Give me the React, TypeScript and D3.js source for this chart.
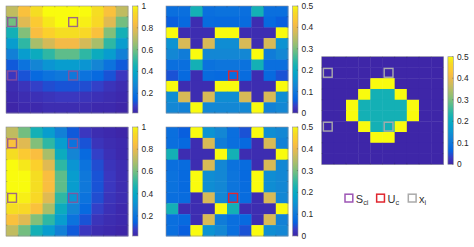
import React from "react";
import * as d3 from "d3";

// parula colormap stops (MATLAB default)
const parulaStops = [
  "#3e26a8", "#3a3bc4", "#0363e1", "#0d75dc", "#1485d4", "#0998d1", "#06a7c6", "#15b1b4",
  "#38b99e", "#65be86", "#92bf73", "#b7bd64", "#d9ba56", "#f8ba44", "#fcce2e", "#f5de21", "#f9fb0e",
];
const parulaPos = [0, 4, 8, 12, 16, 20, 24, 28, 32, 36, 40, 44, 48, 52, 56, 60, 63].map((i) => i / 63);
const parula = d3
  .scaleLinear<string>()
  .domain(parulaPos)
  .range(parulaStops)
  .interpolate(d3.interpolateRgb)
  .clamp(true);

// similarity to the top row probe
const simTop = [
  [0.72, 0.85, 0.95, 1.0, 1.0, 1.0, 1.0, 0.95, 0.85, 0.72],
  [0.6, 0.78, 0.88, 0.97, 1.0, 1.0, 0.98, 0.93, 0.78, 0.6],
  [0.45, 0.62, 0.84, 0.9, 0.95, 0.95, 0.93, 0.85, 0.62, 0.45],
  [0.35, 0.5, 0.68, 0.76, 0.82, 0.82, 0.76, 0.68, 0.5, 0.35],
  [0.25, 0.35, 0.42, 0.5, 0.57, 0.57, 0.5, 0.42, 0.35, 0.25],
  [0.13, 0.2, 0.27, 0.32, 0.35, 0.35, 0.32, 0.27, 0.2, 0.13],
  [0.07, 0.12, 0.17, 0.2, 0.22, 0.22, 0.2, 0.17, 0.12, 0.07],
  [0.04, 0.06, 0.09, 0.11, 0.12, 0.12, 0.11, 0.09, 0.06, 0.04],
  [0.03, 0.04, 0.05, 0.06, 0.07, 0.07, 0.06, 0.05, 0.04, 0.03],
  [0.02, 0.03, 0.03, 0.04, 0.04, 0.04, 0.04, 0.03, 0.03, 0.02],
];

// similarity to the left column probe
const simLeft = [
  [0.72, 0.6, 0.45, 0.35, 0.25, 0.13, 0.07, 0.04, 0.03, 0.02],
  [0.85, 0.78, 0.62, 0.5, 0.35, 0.2, 0.12, 0.06, 0.04, 0.03],
  [0.95, 0.88, 0.84, 0.68, 0.42, 0.27, 0.17, 0.09, 0.05, 0.03],
  [1.0, 0.97, 0.9, 0.78, 0.5, 0.32, 0.2, 0.11, 0.06, 0.04],
  [1.0, 1.0, 0.95, 0.84, 0.57, 0.35, 0.22, 0.12, 0.07, 0.04],
  [1.0, 1.0, 0.95, 0.84, 0.57, 0.35, 0.22, 0.12, 0.07, 0.04],
  [1.0, 0.98, 0.93, 0.78, 0.5, 0.32, 0.2, 0.11, 0.06, 0.04],
  [0.95, 0.93, 0.85, 0.68, 0.42, 0.27, 0.17, 0.09, 0.05, 0.03],
  [0.85, 0.78, 0.62, 0.5, 0.35, 0.2, 0.12, 0.06, 0.04, 0.03],
  [0.72, 0.6, 0.45, 0.35, 0.25, 0.13, 0.07, 0.04, 0.03, 0.02],
];

// variance maps
const varRows = [
  [0.085, 0.085, 0.22, 0.085, 0.09, 0.09, 0.085, 0.22, 0.085, 0.085],
  [0.06, 0.075, 0.01, 0.08, 0.075, 0.075, 0.08, 0.01, 0.075, 0.06],
  [0.5, 0.01, 0.01, 0.01, 0.5, 0.5, 0.01, 0.01, 0.01, 0.5],
  [0.15, 0.38, 0.01, 0.38, 0.14, 0.14, 0.38, 0.01, 0.38, 0.15],
  [0.13, 0.11, 0.5, 0.13, 0.13, 0.13, 0.13, 0.5, 0.11, 0.13],
  [0.085, 0.085, 0.22, 0.09, 0.095, 0.095, 0.09, 0.22, 0.085, 0.085],
  [0.05, 0.075, 0.01, 0.08, 0.075, 0.08, 0.08, 0.01, 0.075, 0.05],
  [0.5, 0.01, 0.01, 0.01, 0.5, 0.5, 0.01, 0.01, 0.01, 0.5],
  [0.14, 0.38, 0.01, 0.38, 0.14, 0.14, 0.38, 0.01, 0.38, 0.14],
  [0.13, 0.12, 0.5, 0.13, 0.13, 0.13, 0.13, 0.5, 0.12, 0.13],
];

const varCols = [
  [0.085, 0.06, 0.5, 0.15, 0.13, 0.085, 0.05, 0.5, 0.14, 0.13],
  [0.085, 0.075, 0.01, 0.38, 0.11, 0.085, 0.075, 0.01, 0.38, 0.12],
  [0.22, 0.01, 0.01, 0.01, 0.5, 0.22, 0.01, 0.01, 0.01, 0.5],
  [0.085, 0.08, 0.01, 0.38, 0.13, 0.09, 0.08, 0.01, 0.38, 0.13],
  [0.09, 0.075, 0.5, 0.14, 0.13, 0.095, 0.075, 0.5, 0.14, 0.13],
  [0.09, 0.075, 0.5, 0.14, 0.13, 0.095, 0.08, 0.5, 0.14, 0.13],
  [0.085, 0.08, 0.01, 0.38, 0.13, 0.09, 0.08, 0.01, 0.38, 0.13],
  [0.22, 0.01, 0.01, 0.01, 0.5, 0.22, 0.01, 0.01, 0.01, 0.5],
  [0.085, 0.075, 0.01, 0.38, 0.11, 0.085, 0.075, 0.01, 0.38, 0.12],
  [0.085, 0.06, 0.5, 0.15, 0.13, 0.085, 0.05, 0.5, 0.14, 0.13],
];

// target pattern
const target = [
  [0, 0, 0, 0, 0, 0, 0, 0, 0, 0],
  [0, 0, 0, 0, 0, 0, 0, 0, 0, 0],
  [0, 0, 0, 0, 0.5, 0.5, 0, 0, 0, 0],
  [0, 0, 0, 0.5, 0.22, 0.22, 0.5, 0, 0, 0],
  [0, 0, 0.5, 0.22, 0.22, 0.22, 0.22, 0.5, 0, 0],
  [0, 0, 0.5, 0.22, 0.22, 0.22, 0.22, 0.5, 0, 0],
  [0, 0, 0, 0.5, 0.22, 0.22, 0.5, 0, 0, 0],
  [0, 0, 0, 0, 0.5, 0.5, 0, 0, 0, 0],
  [0, 0, 0, 0, 0, 0, 0, 0, 0, 0],
  [0, 0, 0, 0, 0, 0, 0, 0, 0, 0],
];

const ticksUnit = [0.2, 0.4, 0.6, 0.8, 1];
const ticksHalf = [0, 0.1, 0.2, 0.3, 0.4, 0.5];

// highlighted cells as [row, col]
const sciCells = [[1, 0], [1, 5], [6, 0], [6, 5]];
const ucCells = [[6, 5]];
const xiCells = [[1, 0], [1, 5], [6, 0], [6, 5]];

const legendKeys = ["S", "U", "x"];
const legendSubs = ["ci", "c", "i"];
const SCI = "#8e4f98";
const UC = "#e0262f";
const XI = "#aaaaaa";
const legendColors = ["#9d55b5", UC, XI];

const AXIS = "#262626";

type Mark = { cells: number[][]; color: string; opacity?: number };

function Heatmap(props: {
  id: string;
  values: number[][];
  left: number;
  top: number;
  width: number;
  height: number;
  domain: [number, number];
  ticks: number[];
  marks: Mark[];
}) {
  const { id, values, left, top, width, height, domain, ticks, marks } = props;
  const x = d3.scaleBand<number>().domain(d3.range(values[0].length)).range([left, left + width]);
  const y = d3.scaleBand<number>().domain(d3.range(values.length)).range([top, top + height]);
  const color = d3.scaleSequential((t: number) => parula(t)).domain(domain);
  const cbLeft = left + width + 4.6;
  const cbW = 5.4;
  const cbY = d3.scaleLinear().domain(domain).range([top + height, top]);
  const side = 8.8;
  const inner = d3.range(1, values[0].length);
  const innerY = d3.range(1, values.length);

  return (
    <g>
      <defs>
        <linearGradient id={`cb-${id}`} x1="0" y1="1" x2="0" y2="0">
          {d3.range(0, 1.0001, 1 / 32).map((t) => (
            <stop key={t} offset={t} stopColor={parula(t)} />
          ))}
        </linearGradient>
      </defs>
      {values.map((row, r) =>
        row.map((v, c) => (
          <rect
            key={`${r}-${c}`}
            x={x(c)}
            y={y(r)}
            width={x.bandwidth() + 0.4}
            height={y.bandwidth() + 0.4}
            fill={color(v)}
          />
        )),
      )}
      {marks.map((m, i) =>
        m.cells.map(([r, c]) => (
          <rect
            key={`${i}-${r}-${c}`}
            x={(x(c) ?? 0) + (x.bandwidth() - side) / 2}
            y={(y(r) ?? 0) + (y.bandwidth() - side) / 2}
            width={side}
            height={side}
            fill="none"
            stroke={m.color}
            strokeOpacity={m.opacity ?? 1}
            strokeWidth={1.4}
          />
        )),
      )}
      <rect x={left} y={top} width={width} height={height} fill="none" stroke="#8f8f9a" strokeWidth={0.6} />
      {inner.map((i) => (
        <g key={`tx${i}`} stroke={AXIS} strokeOpacity={0.45} strokeWidth={0.5}>
          <line x1={x(i)} x2={x(i)} y1={top} y2={top + 1.4} />
          <line x1={x(i)} x2={x(i)} y1={top + height} y2={top + height - 1.4} />
        </g>
      ))}
      {innerY.map((i) => (
        <g key={`ty${i}`} stroke={AXIS} strokeOpacity={0.45} strokeWidth={0.5}>
          <line y1={y(i)} y2={y(i)} x1={left} x2={left + 1.4} />
          <line y1={y(i)} y2={y(i)} x1={left + width} x2={left + width - 1.4} />
        </g>
      ))}
      <rect
        x={cbLeft}
        y={top}
        width={cbW}
        height={height}
        fill={`url(#cb-${id})`}
        stroke="#8f8f9a"
        strokeWidth={0.6}
      />
      {ticks.map((t) => (
        <g key={t}>
          <line x1={cbLeft + cbW} x2={cbLeft + cbW - 1.2} y1={cbY(t)} y2={cbY(t)} stroke={AXIS} strokeWidth={0.5} strokeOpacity={0.6} />
          <text
            x={cbLeft + cbW + 3.6}
            y={cbY(t)}
            dy="0.35em"
            fontSize={8.4}
            fill={AXIS}
            fontFamily="Liberation Sans, Arial, sans-serif"
          >
            {String(t)}
          </text>
        </g>
      ))}
    </g>
  );
}

export default function App() {
  const legendX = d3.scalePoint<string>().domain(legendKeys).range([345, 408.3]);
  return (
    <svg
      width={474}
      height={247}
      viewBox="0 0 474 247"
      style={{ position: "absolute", left: 0, top: 0, background: "#ffffff" }}
    >
      <rect width={474} height={247} fill="#ffffff" />
      <Heatmap
        id="a"
        values={simTop}
        left={6}
        top={6}
        width={122}
        height={107}
        domain={[0.02, 1]}
        ticks={ticksUnit}
        marks={[{ cells: sciCells, color: SCI, opacity: 0.85 }]}
      />
      <Heatmap
        id="b"
        values={varRows}
        left={166}
        top={6}
        width={122}
        height={107}
        domain={[0, 0.5]}
        ticks={ticksHalf}
        marks={[{ cells: ucCells, color: UC }]}
      />
      <Heatmap
        id="c"
        values={simLeft}
        left={6}
        top={127}
        width={122}
        height={109}
        domain={[0.02, 1]}
        ticks={ticksUnit}
        marks={[{ cells: sciCells, color: SCI, opacity: 0.85 }]}
      />
      <Heatmap
        id="d"
        values={varCols}
        left={166}
        top={127}
        width={122}
        height={109}
        domain={[0, 0.5]}
        ticks={ticksHalf}
        marks={[{ cells: ucCells, color: UC }]}
      />
      <Heatmap
        id="e"
        values={target}
        left={321.7}
        top={56.7}
        width={121.6}
        height={107.6}
        domain={[0, 0.5]}
        ticks={ticksHalf}
        marks={[{ cells: xiCells, color: XI }]}
      />
      {legendKeys.map((k, i) => {
        const lx = legendX(k) ?? 0;
        return (
          <g key={k}>
            <rect x={lx} y={194.2} width={7.8} height={7.8} fill="none" stroke={legendColors[i]} strokeWidth={1.5} />
            <text x={lx + 10.8} y={202.6} fontSize={11} fill="#333333" fontFamily="Liberation Sans, Arial, sans-serif">
              <tspan>{k}</tspan>
              <tspan fontSize={7.4} dy={2}>
                {legendSubs[i]}
              </tspan>
            </text>
          </g>
        );
      })}
    </svg>
  );
}
